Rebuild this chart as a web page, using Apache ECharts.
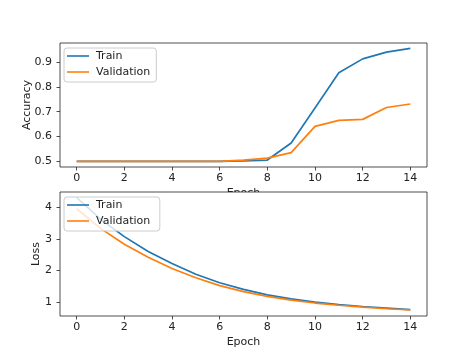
<!DOCTYPE html>
<html><head><meta charset="utf-8">
<script src="https://cdn.jsdelivr.net/npm/echarts@6/dist/echarts.min.js"></script>
<style>html,body{margin:0;padding:0;background:#fff}#c{width:474px;height:355px}</style>
</head><body><div id="c"></div>
<script>
const epochs = [0,1,2,3,4,5,6,7,8,9,10,11,12,13,14];
const accTrain = [0.5,0.5,0.5,0.5,0.5,0.5,0.5,0.502,0.505,0.574,0.715,0.857,0.913,0.940,0.955];
const accVal   = [0.5,0.5,0.5,0.5,0.5,0.5,0.5,0.505,0.513,0.535,0.641,0.665,0.669,0.717,0.731];
const lossTrain = [4.30,3.62,3.07,2.60,2.22,1.88,1.61,1.40,1.23,1.10,1.00,0.92,0.86,0.81,0.76];
const lossVal   = [3.95,3.33,2.83,2.42,2.06,1.77,1.52,1.33,1.18,1.06,0.97,0.90,0.84,0.79,0.75];
const xTicks = [0,2,4,6,8,10,12,14];

const font = 'DejaVu Sans';
const txt = '#222';
const fs = 11;
function xAxis(idx, z){
  return {type:'value', gridIndex:idx, min:-0.7, max:14.7, z:z,
    name:'Epoch', nameLocation:'middle', nameGap:21, nameMoveOverlap:false,
    nameTextStyle:{fontFamily:font,fontSize:fs,color:txt},
    axisLine:{show:false, onZero:false}, splitLine:{show:false},
    axisTick:{show:true, length:3.5, lineStyle:{color:'#222',width:0.8}, customValues:xTicks},
    axisLabel:{fontFamily:font,fontSize:fs,color:txt,margin:6,customValues:xTicks,formatter:v=>String(v)}};
}
function yAxis(idx, min, max, split, name, gap, fmt, z){
  return {type:'value', gridIndex:idx, min:min, max:max, splitNumber:split, z:z,
    name:name, nameLocation:'middle', nameGap:gap, nameRotate:90, nameMoveOverlap:false,
    nameTextStyle:{fontFamily:font,fontSize:fs,color:txt},
    axisLine:{show:false, onZero:false}, splitLine:{show:false},
    axisTick:{show:true, length:3.5, lineStyle:{color:'#222',width:0.8}},
    axisLabel:{fontFamily:font,fontSize:fs,color:txt,margin:8,showMinLabel:false,showMaxLabel:false,formatter:fmt}};
}
function legend(top, names, z){
  return {show:true, orient:'vertical', left:64, top:top, padding:[2,6,4,3], itemGap:4, z:z,
    itemWidth:22, itemHeight:1.6, icon:'rect', backgroundColor:'rgba(255,255,255,0.8)', borderColor:'#ccc',
    borderWidth:1, borderRadius:3, data:names,
    textStyle:{fontFamily:font,fontSize:fs,color:txt,padding:[0,0,0,2],lineHeight:12}};
}
const chart = echarts.init(document.getElementById('c'), null, {renderer:'canvas'});
chart.setOption({
  animation:false,
  backgroundColor:'#fff',
  grid:[
    {left:60, right:47, top:43, height:124, show:true, borderColor:'#222', borderWidth:0.8, backgroundColor:'transparent', z:0},
    {left:60, right:47, top:192, height:124, show:true, borderColor:'#222', borderWidth:0.8, backgroundColor:'transparent', z:3}
  ],
  graphic:{elements:[{type:'rect', z:2, silent:true, shape:{x:60, y:192, width:367, height:124}, style:{fill:'#fff'}}]},
  xAxis:[xAxis(0,0), xAxis(1,3)],
  yAxis:[
    yAxis(0, 0.477, 0.977, 5, 'Accuracy', 27, v=>v.toFixed(1), 0),
    yAxis(1, 0.56, 4.48, 4, 'Loss', 18, v=>String(v), 3)
  ],
  legend:[legend(48, ['Train','Validation'], 5), legend(197, ['Train ','Validation '], 6)],
  series:[
    {name:'Train', type:'line', xAxisIndex:0, yAxisIndex:0, data:epochs.map((e,i)=>[e,accTrain[i]]), symbol:'none', color:'#1f77b4', lineStyle:{width:1.7}, z:1},
    {name:'Validation', type:'line', xAxisIndex:0, yAxisIndex:0, data:epochs.map((e,i)=>[e,accVal[i]]), symbol:'none', color:'#ff7f0e', lineStyle:{width:1.7}, z:1},
    {name:'Train ', type:'line', xAxisIndex:1, yAxisIndex:1, data:epochs.map((e,i)=>[e,lossTrain[i]]), symbol:'none', color:'#1f77b4', lineStyle:{width:1.7}, z:4},
    {name:'Validation ', type:'line', xAxisIndex:1, yAxisIndex:1, data:epochs.map((e,i)=>[e,lossVal[i]]), symbol:'none', color:'#ff7f0e', lineStyle:{width:1.7}, z:4}
  ]
});
</script></body></html>
